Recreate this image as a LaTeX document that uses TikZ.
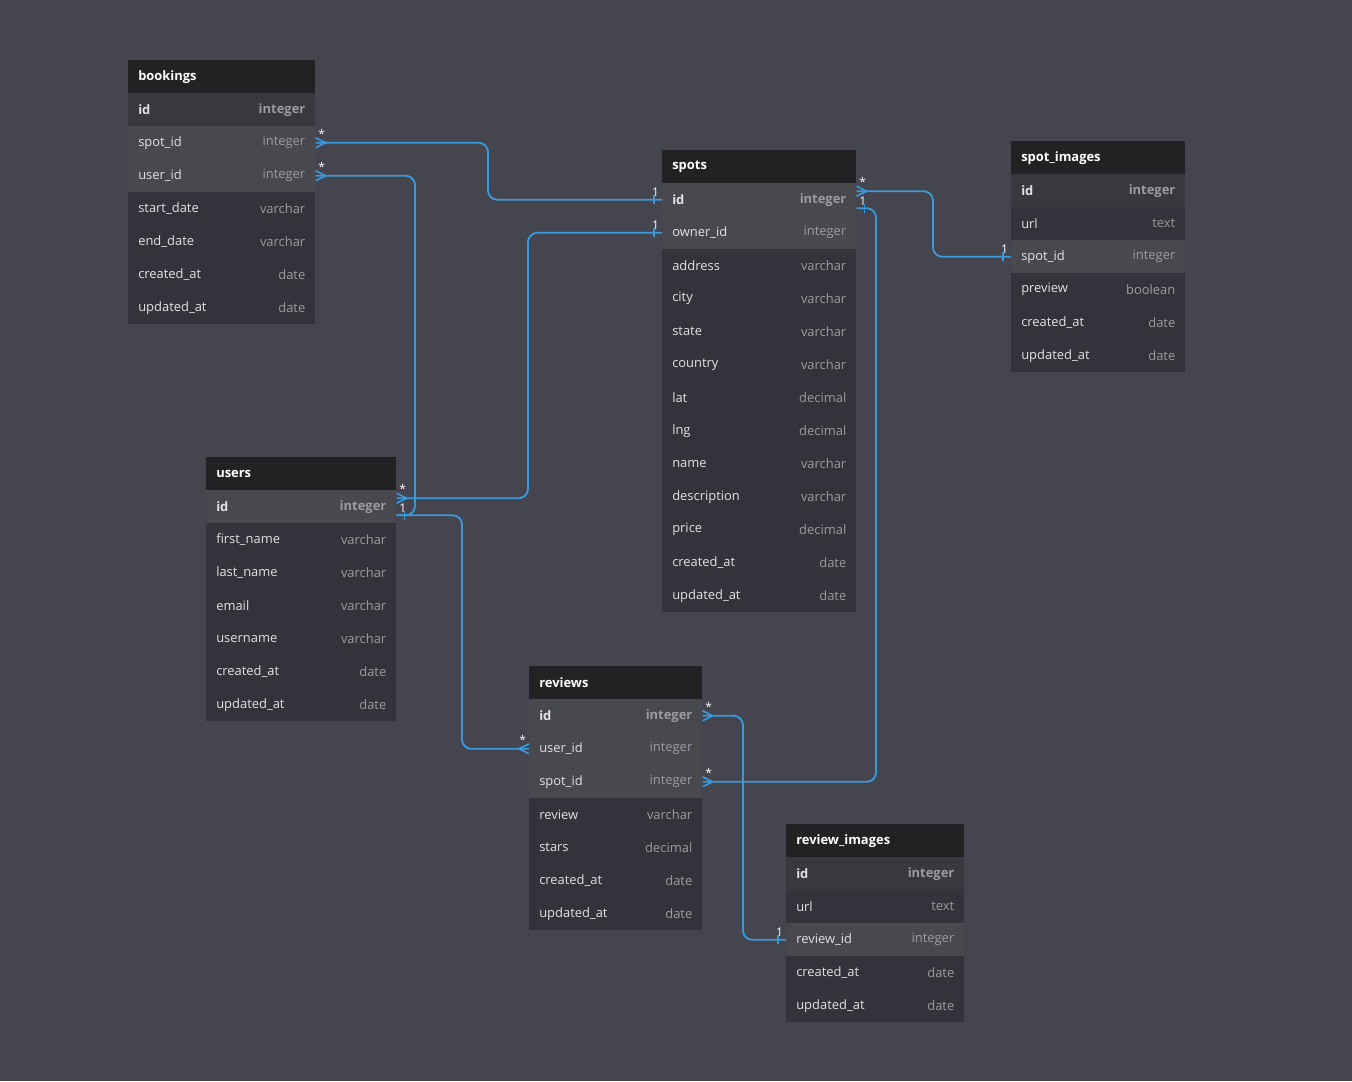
\documentclass[tikz,border=0pt]{standalone}
\usepackage{fontspec}
\setmainfont{Open Sans}
\definecolor{bg}{HTML}{45454F}
\definecolor{hd}{HTML}{222224}
\definecolor{rown}{HTML}{33333B}
\definecolor{rowk}{HTML}{38383F}
\definecolor{rowh}{HTML}{48484F}
\definecolor{rowkh}{HTML}{48484F}
\definecolor{ln}{HTML}{3A9AD9}
\definecolor{nmc}{HTML}{E2E2E2}
\definecolor{tyc}{HTML}{9C9C9C}
\newcommand\erfn{\fontsize{9.7}{11}\selectfont}
\newcommand\erfh{\fontsize{9.7}{11}\selectfont}
\newcommand\erfk{\fontsize{9.7}{11}\selectfont\bfseries}
\newcommand\erfkh{\fontsize{9.7}{11}\selectfont\bfseries}
\newcommand\ertbl[6]{%
  \node[rectangle,fill=hd,minimum width=#4*0.75pt,minimum height=24.75pt,anchor=north west,inner sep=0pt] (#1-0) at (#2,#3) {};
  \node[anchor=west,text=white,inner sep=0pt,font=\fontsize{9.7}{11}\selectfont\bfseries] at ([xshift=7.5pt]#1-0.west) {#5};
  \foreach \n/\t/\s [count=\i] in {#6} {
    \node[rectangle,fill=row\s,minimum width=#4*0.75pt,minimum height=24.75pt,anchor=north west,inner sep=0pt] (#1-\i) at (#2,{#3+33*\i}) {};
    \node[anchor=west,text=nmc,inner sep=0pt,font=\csname erf\s\endcsname] at ([xshift=7.5pt]#1-\i.west) {\n};
    \node[anchor=east,text=tyc,inner sep=0pt,font=\csname erf\s\endcsname] at ([xshift=-7.5pt]#1-\i.east) {\t};
  }}
\tikzset{conn/.style={draw=ln,line width=1.4pt,rounded corners=7pt},
  mk/.style={text=white,font=\fontsize{9}{10}\selectfont,inner sep=1pt}}
\newcommand\crowR[1]{\draw[ln,line width=1.2pt] ([yshift=3.75pt]#1) -- ([xshift=7.5pt]#1) -- ([yshift=-3.75pt]#1);
  \node[mk,anchor=south west] at ([xshift=1pt,yshift=2pt]#1) {*};}
\newcommand\crowL[1]{\draw[ln,line width=1.2pt] ([yshift=3.75pt]#1) -- ([xshift=-7.5pt]#1) -- ([yshift=-3.75pt]#1);
  \node[mk,anchor=south east] at ([xshift=-1pt,yshift=2pt]#1) {*};}
\newcommand\oneR[1]{\draw[ln,line width=1.2pt] ([xshift=6pt,yshift=3.5pt]#1) -- ([xshift=6pt,yshift=-3.5pt]#1);
  \node[mk,anchor=south west] at ([xshift=1pt,yshift=1pt]#1) {1};}
\newcommand\oneL[1]{\draw[ln,line width=1.2pt] ([xshift=-6pt,yshift=3.5pt]#1) -- ([xshift=-6pt,yshift=-3.5pt]#1);
  \node[mk,anchor=south east] at ([xshift=-1pt,yshift=1pt]#1) {1};}
\begin{document}
\begin{tikzpicture}[x=0.75pt,y=-0.75pt]
\fill[bg] (0,0) rectangle (1352,1081);
\useasboundingbox (0,0) rectangle (1352,1081);
\ertbl{bk}{128}{60}{187}{bookings}{id/integer/k,spot\_id/integer/h,user\_id/integer/h,start\_date/varchar/n,end\_date/varchar/n,created\_at/date/n,updated\_at/date/n}
\ertbl{sp}{662}{150}{194}{spots}{id/integer/kh,owner\_id/integer/h,address/varchar/n,city/varchar/n,state/varchar/n,country/varchar/n,lat/decimal/n,lng/decimal/n,name/varchar/n,description/varchar/n,price/decimal/n,created\_at/date/n,updated\_at/date/n}
\ertbl{si}{1011}{141}{174}{spot\_images}{id/integer/k,url/text/n,spot\_id/integer/h,preview/boolean/n,created\_at/date/n,updated\_at/date/n}
\ertbl{us}{206}{457}{190}{users}{id/integer/kh,first\_name/varchar/n,last\_name/varchar/n,email/varchar/n,username/varchar/n,created\_at/date/n,updated\_at/date/n}
\ertbl{rv}{529}{666}{173}{reviews}{id/integer/kh,user\_id/integer/h,spot\_id/integer/h,review/varchar/n,stars/decimal/n,created\_at/date/n,updated\_at/date/n}
\ertbl{ri}{786}{824}{178}{review\_images}{id/integer/k,url/text/n,review\_id/integer/h,created\_at/date/n,updated\_at/date/n}
\coordinate (xD) at (488,0);
\coordinate (xA) at (528,0);
\coordinate (xB) at (415,0);
\coordinate (xC) at (462,0);
\coordinate (xE) at (933,0);
\coordinate (xF) at (876,0);
\coordinate (xG) at (743,0);
\coordinate (usA) at ([yshift=6.4pt]us-1.east);
\coordinate (usB) at ([yshift=-6.4pt]us-1.east);
\coordinate (spE) at ([yshift=6.4pt]sp-1.east);
\coordinate (spF) at ([yshift=-6.4pt]sp-1.east);
\draw[conn] (bk-2.east) -- (bk-2.east -| xD) -- (sp-1.west -| xD) -- (sp-1.west);
\crowR{bk-2.east} \oneL{sp-1.west}
\draw[conn] (bk-3.east) -- (bk-3.east -| xB) -- (usB -| xB) -- (usB);
\crowR{bk-3.east}
\draw[conn] (usA) -- (usA -| xA) -- (sp-2.west -| xA) -- (sp-2.west);
\crowR{usA} \oneL{sp-2.west}
\draw[conn] (usB) -- (usB -| xC) -- (rv-2.west -| xC) -- (rv-2.west);
\oneR{usB} \crowL{rv-2.west}
\draw[conn] (spE) -- (spE -| xE) -- (si-3.west -| xE) -- (si-3.west);
\crowR{spE} \oneL{si-3.west}
\draw[conn] (spF) -- (spF -| xF) -- (rv-3.east -| xF) -- (rv-3.east);
\oneR{spF} \crowR{rv-3.east}
\draw[conn] (rv-1.east) -- (rv-1.east -| xG) -- (ri-3.west -| xG) -- (ri-3.west);
\crowR{rv-1.east} \oneL{ri-3.west}
\end{tikzpicture}
\end{document}
